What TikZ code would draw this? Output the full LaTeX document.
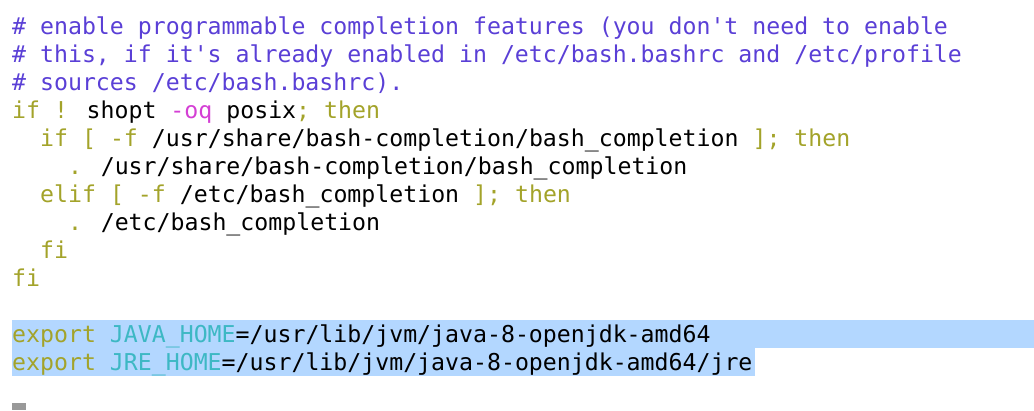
\documentclass[tikz,border=0pt]{standalone}
\usepackage{fontspec}
\newfontfamily\code{DejaVu Sans Mono}
\definecolor{cmt}{HTML}{5A3FD6}
\definecolor{kw}{HTML}{A3A32A}
\definecolor{opt}{HTML}{D43FD4}
\definecolor{var}{HTML}{3DB8C4}
\definecolor{hl}{HTML}{B3D7FF}
\newcommand\K[1]{\textcolor{kw}{#1}}
\newcommand\indentby[1]{\hspace*{\dimexpr #1\dimexpr 14pt\relax\relax}}
\tikzset{ln/.style={anchor=base west,inner sep=0pt,font=\code\fontsize{23.2pt}{28pt}\selectfont}}
\begin{document}
\begin{tikzpicture}[x=1pt,y=-1pt]
\useasboundingbox (0,0) rectangle (1034,410);
\fill[hl] (12,320) rectangle (1034,348);
\fill[hl] (12,348) rectangle (755,376);
\fill[gray!80] (12,403) rectangle (26,410);
\node[ln,text=cmt] (l1) at (12,34) {\# enable programmable completion features (you don't need to enable};
\node[ln,text=cmt] (l2) at (12,62) {\# this, if it's already enabled in /etc/bash.bashrc and /etc/profile};
\node[ln,text=cmt] (l3) at (12,90) {\# sources /etc/bash.bashrc).};
\node[ln] (l4) at (12,118) {\K{if !} shopt \textcolor{opt}{-oq} posix\K{; then}};
\node[ln] (l5) at (12,146) {\indentby{2}\K{if [ -f} /usr/share/bash-completion/bash\_completion \K{]; then}};
\node[ln] (l6) at (12,174) {\indentby{4}\K{.} /usr/share/bash-completion/bash\_completion};
\node[ln] (l7) at (12,202) {\indentby{2}\K{elif [ -f} /etc/bash\_completion \K{]; then}};
\node[ln] (l8) at (12,230) {\indentby{4}\K{.} /etc/bash\_completion};
\node[ln] (l9) at (12,258) {\indentby{2}\K{fi}};
\node[ln] (l10) at (12,286) {\K{fi}};
\node[ln] (l11) at (12,342) {\K{export} \textcolor{var}{JAVA\_HOME}=/usr/lib/jvm/java-8-openjdk-amd64};
\node[ln] (l12) at (12,370) {\K{export} \textcolor{var}{JRE\_HOME}=/usr/lib/jvm/java-8-openjdk-amd64/jre};
\end{tikzpicture}
\end{document}
